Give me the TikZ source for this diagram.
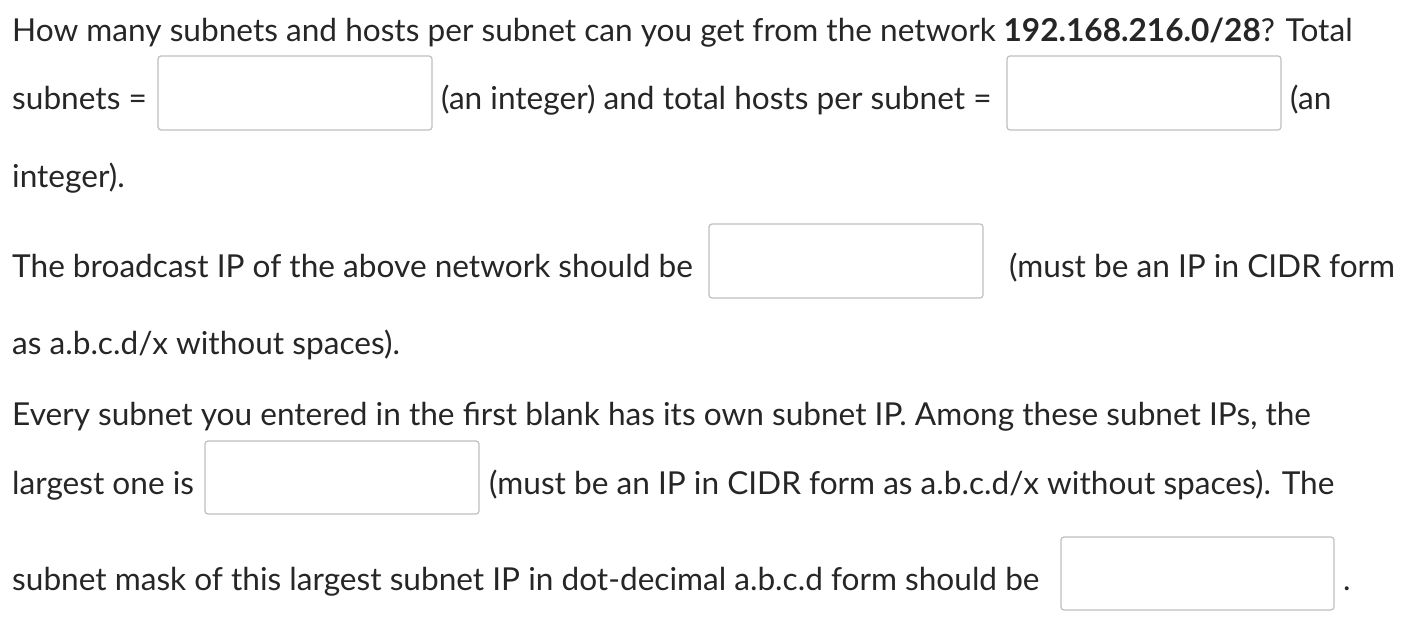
\documentclass[tikz,border=0pt]{standalone}
\usepackage{fontspec}
\setmainfont{Lato}
\begin{document}
\begin{tikzpicture}[x=1pt,y=-1pt,
  t/.style={anchor=base west,inner sep=0pt,font=\fontsize{31.6}{34}\selectfont,text=black!85},
  ib/.style={draw=black!25,line width=1.2pt,rounded corners=3pt,fill=white}]
\useasboundingbox (0,0) rectangle (1406,636);
\node[t] (l1) at (12,42) {How many subnets and hosts per subnet can you get from the network \textbf{192.168.216.0/28}? Total};
\node[t] (l2a) at (12,110) {subnets =};
\draw[ib] (158,56) rectangle (432,130);
\node[t] (l2b) at (441,110) {(an integer) and total hosts per subnet =};
\draw[ib] (1007,56) rectangle (1281,130);
\node[t] (l2c) at (1290,110) {(an};
\node[t] (l3) at (12,188) {integer).};
\node[t] (l4a) at (12,278) {The broadcast IP of the above network should be};
\draw[ib] (709,224) rectangle (983,298);
\node[t] (l4b) at (1009,278) {(must be an IP in CIDR form};
\node[t] (l5) at (12,355) {as a.b.c.d/x without spaces).};
\node[t] (l6) at (12,425) {Every subnet you entered in the first blank has its own subnet IP. Among these subnet IPs, the};
\node[t] (l7a) at (12,494) {largest one is};
\draw[ib] (205,441) rectangle (479,514);
\node[t] (l7b) at (489,494) {(must be an IP in CIDR form as a.b.c.d/x without spaces). The};
\node[t] (l8a) at (12,590) {subnet mask of this largest subnet IP in dot-decimal a.b.c.d form should be};
\draw[ib] (1061,537) rectangle (1334,610);
\node[t] (l8b) at (1343,590) {.};
\end{tikzpicture}
\end{document}
